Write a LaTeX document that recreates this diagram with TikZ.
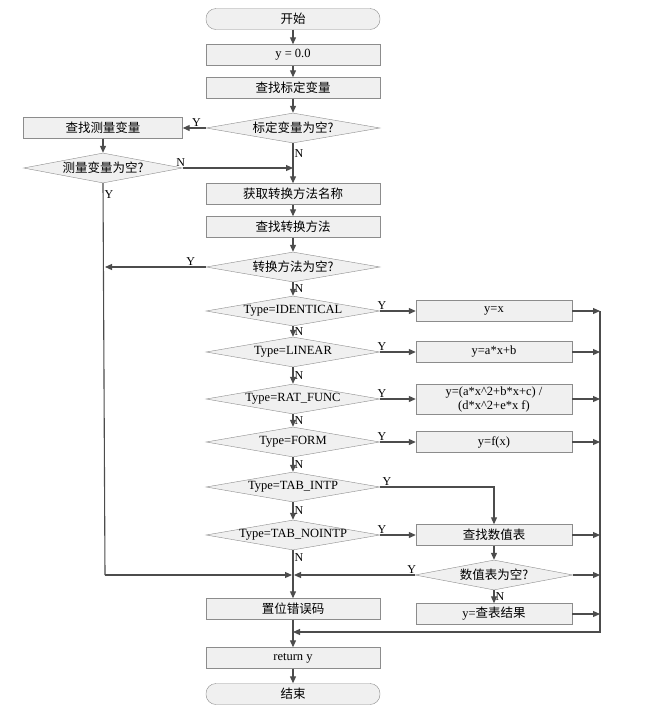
\documentclass[tikz,border=0pt]{standalone}
\usepackage{fontspec}
\setmainfont{Liberation Serif}
\newfontfamily\cjk{Noto Sans CJK SC}
\usetikzlibrary{shapes.geometric,arrows.meta}
\begin{document}
\begin{tikzpicture}[x=1pt,y=-1pt,font=\fontsize{12.5}{14}\selectfont,
 box/.style={draw=black!45,fill=black!6,minimum width=174pt,minimum height=21pt,inner sep=1pt},
 sbox/.style={box,minimum width=156pt},
 term/.style={box,rounded corners=10pt},
 dia/.style={diamond,draw=black!45,fill=black!6,aspect=6,minimum width=174pt,minimum height=30pt,inner sep=0pt},
 sdia/.style={dia,minimum width=158pt},
 ar/.style={draw=black!70,line width=1.1pt,-{Triangle[length=7pt,width=6pt]}},
 ln/.style={draw=black!70,line width=1.1pt},
 lb/.style={font=\fontsize{12}{13}\selectfont,inner sep=1pt}]
\useasboundingbox (0,0) rectangle (655,716);
\node[term] (start) at (293,19) {\cjk 开始};
\node[box] (y0) at (293,55) {y = 0.0};
\node[box] (fcal) at (293,88) {\cjk 查找标定变量};
\node[dia] (dcal) at (293,128) {\cjk 标定变量为空?};
\node[sbox,minimum width=159pt] (fmeas) at (103,128) {\cjk 查找测量变量};
\node[sdia,minimum width=159pt] (dmeas) at (103,168) {\cjk 测量变量为空?};
\node[box] (gname) at (293,194) {\cjk 获取转换方法名称};
\node[box] (fconv) at (293,227) {\cjk 查找转换方法};
\node[dia] (dconv) at (293,267) {\cjk 转换方法为空?};
\node[dia] (t1) at (293,311) {Type=IDENTICAL};
\node[dia] (t2) at (293,352) {Type=LINEAR};
\node[dia] (t3) at (293,399) {Type=RAT\_FUNC};
\node[dia] (t4) at (293,442) {Type=FORM};
\node[dia] (t5) at (293,487) {Type=TAB\_INTP};
\node[dia] (t6) at (293,535) {Type=TAB\_NOINTP};
\node[sbox] (b1) at (494,311) {y=x};
\node[sbox] (b2) at (494,352) {y=a*x+b};
\node[sbox,minimum height=30pt,align=center] (b3) at (494,399) {y=(a*x\^{}2+b*x+c) /\\(d*x\^{}2+e*x f)};
\node[sbox] (b4) at (494,442) {y=f(x)};
\node[sbox] (ftab) at (494,535) {\cjk 查找数值表};
\node[sdia] (dtab) at (494,575) {\cjk 数值表为空?};
\node[sbox] (rtab) at (494,614) {y={\cjk 查表结果}};
\node[box] (err) at (293,609) {\cjk 置位错误码};
\node[box] (ret) at (293,658) {return y};
\node[term] (end) at (293,694) {\cjk 结束};
\coordinate (j1) at (293,168);
\coordinate (j2) at (293,575);
\coordinate (j3) at (293,632);
\coordinate (lx) at (105,575);
\coordinate (bus) at (600,632);
% main
\draw[ar] (start) -- (y0);
\draw[ar] (y0) -- (fcal);
\draw[ar] (fcal) -- (dcal);
\draw[ar] (dcal) -- (gname) node[lb,pos=0.25,anchor=west] {N};
\draw[ar] (dcal.west) -- (fmeas.east) node[lb,pos=0.4,above] {Y};
\draw[ar] (fmeas) -- (dmeas);
\draw[ar] (dmeas.east) -- (j1) node[lb,pos=0.0,above right,xshift=-8pt] {N};
\draw[ar] (gname) -- (fconv);
\draw[ar] (fconv) -- (dconv);
\draw[ar] (dconv.west) -- (105,267) node[lb,pos=0.15,above] {Y};
\draw[ln] (dmeas.south) -- (lx) node[lb,pos=0.03,right] {Y};
\draw[ar] (lx) -- ([xshift=-1pt]j2);
\draw[ar] (dconv) -- (t1) node[lb,midway,right] {N};
\foreach \a/\b in {t1/t2,t2/t3,t3/t4,t4/t5,t5/t6}
 \draw[ar] (\a) -- (\b) node[lb,midway,right] {N};
\foreach \a/\b in {t1/b1,t2/b2,t3/b3,t4/b4,t6/ftab}
 \draw[ar] (\a.east) -- (\b.west) node[lb,pos=0.05,above] {Y};
\draw[ar] (t5.east) -| (ftab.north) node[lb,pos=0.03,above] {Y};
\draw[ln] (t6.south) -- (j2) node[lb,pos=0.3,right] {N};
\draw[ar] (j2) -- (err);
\draw[ar] (dtab) -- (rtab) node[lb,midway,right] {N};
\draw[ar] (ftab) -- (dtab);
\draw[ar] (dtab.west) -- ([xshift=1pt]j2) node[lb,pos=0.0,above,xshift=-3pt] {Y};
\draw[ar] (err) -- (ret);
\draw[ar] (ret) -- (end);
\draw[ln] (600,311) -- (bus) -- (300,632);
\draw[ar] (bus) -- (j3);
\foreach \n in {b1,b2,b3,b4,ftab,dtab,rtab}
 \draw[ar] (\n.east) -- (600,0 |- \n.east);
\end{tikzpicture}
\end{document}
